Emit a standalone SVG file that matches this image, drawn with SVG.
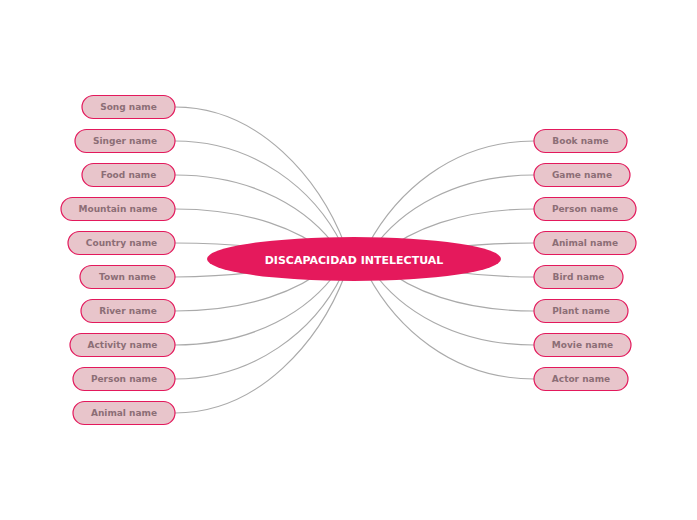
<svg xmlns="http://www.w3.org/2000/svg" width="697" height="520" viewBox="0 0 697 520">
<style>
.n rect{fill:#e8c5cb;stroke:#e3195c;stroke-width:1.2}
.n text{font-family:"DejaVu Sans",Verdana,sans-serif;font-weight:bold;font-size:9px;fill:#8c6e76;text-anchor:middle;dominant-baseline:central}
#links path{fill:none;stroke:#aaaaaa;stroke-width:1.2}
</style>
<rect width="697" height="520" fill="#fff"/>
<g id="links">
<path d="M175,107 C260,107 320,180 345,245"/>
<path d="M175,141 C255,141 315,190 342,245"/>
<path d="M175,175 C255,175 310,210 338,250"/>
<path d="M175,209 C250,209 300,230 330,255"/>
<path d="M175,243 C230,243 280,248 320,257"/>
<path d="M175,277 C230,277 280,270 320,262"/>
<path d="M175,311 C250,311 300,290 330,265"/>
<path d="M175,345 C255,345 310,310 338,270"/>
<path d="M175,379 C255,379 315,330 342,275"/>
<path d="M175,413 C260,413 320,340 345,275"/>
<path d="M534,141 C450,141 395,195 368,245"/>
<path d="M534,175 C455,175 400,210 372,250"/>
<path d="M534,209 C460,209 410,230 380,255"/>
<path d="M534,243 C480,243 430,248 390,257"/>
<path d="M534,277 C480,277 430,270 390,262"/>
<path d="M534,311 C460,311 410,290 380,265"/>
<path d="M534,345 C455,345 400,310 372,270"/>
<path d="M534,379 C450,379 395,325 368,275"/>
</g>
<g id="center">
<ellipse cx="354" cy="259" rx="147" ry="22" fill="#e5195c"/>
<text x="354" y="260" font-family="DejaVu Sans,Verdana,sans-serif" font-weight="bold" font-size="11px" fill="#fff" text-anchor="middle" dominant-baseline="central">DISCAPACIDAD INTELECTUAL</text>
</g>
<g id="n1" class="n"><rect x="82" y="95.5" width="93" height="23" rx="11.5"/><text x="128.5" y="107">Song name</text></g>
<g id="n2" class="n"><rect x="75" y="129.5" width="100" height="23" rx="11.5"/><text x="125" y="141">Singer name</text></g>
<g id="n3" class="n"><rect x="82" y="163.5" width="93" height="23" rx="11.5"/><text x="128.5" y="175">Food name</text></g>
<g id="n4" class="n"><rect x="61" y="197.5" width="114" height="23" rx="11.5"/><text x="118" y="209">Mountain name</text></g>
<g id="n5" class="n"><rect x="68" y="231.5" width="107" height="23" rx="11.5"/><text x="121.5" y="243">Country name</text></g>
<g id="n6" class="n"><rect x="80" y="265.5" width="95" height="23" rx="11.5"/><text x="127.5" y="277">Town name</text></g>
<g id="n7" class="n"><rect x="81" y="299.5" width="94" height="23" rx="11.5"/><text x="128" y="311">River name</text></g>
<g id="n8" class="n"><rect x="70" y="333.5" width="105" height="23" rx="11.5"/><text x="122.5" y="345">Activity name</text></g>
<g id="n9" class="n"><rect x="73" y="367.5" width="102" height="23" rx="11.5"/><text x="124" y="379">Person name</text></g>
<g id="n10" class="n"><rect x="73" y="401.5" width="102" height="23" rx="11.5"/><text x="124" y="413">Animal name</text></g>
<g id="n11" class="n"><rect x="534" y="129.5" width="93" height="23" rx="11.5"/><text x="580.5" y="141">Book name</text></g>
<g id="n12" class="n"><rect x="534" y="163.5" width="96" height="23" rx="11.5"/><text x="582" y="175">Game name</text></g>
<g id="n13" class="n"><rect x="534" y="197.5" width="102" height="23" rx="11.5"/><text x="585" y="209">Person name</text></g>
<g id="n14" class="n"><rect x="534" y="231.5" width="102" height="23" rx="11.5"/><text x="585" y="243">Animal name</text></g>
<g id="n15" class="n"><rect x="534" y="265.5" width="89" height="23" rx="11.5"/><text x="578.5" y="277">Bird name</text></g>
<g id="n16" class="n"><rect x="534" y="299.5" width="94" height="23" rx="11.5"/><text x="581" y="311">Plant name</text></g>
<g id="n17" class="n"><rect x="534" y="333.5" width="97" height="23" rx="11.5"/><text x="582.5" y="345">Movie name</text></g>
<g id="n18" class="n"><rect x="534" y="367.5" width="94" height="23" rx="11.5"/><text x="581" y="379">Actor name</text></g>
</svg>
